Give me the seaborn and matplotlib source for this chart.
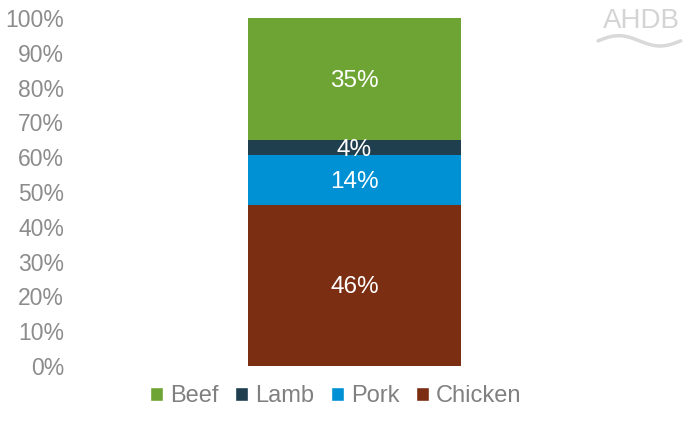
import numpy as np
import pandas as pd
import matplotlib
matplotlib.use("Agg")
import matplotlib.pyplot as plt
import seaborn as sns
from matplotlib.patches import Patch
from matplotlib.lines import Line2D

sns.set_theme(style="white")
plt.rcParams['font.family'] = ['Liberation Sans', 'DejaVu Sans']

# shares of meat (stack order bottom -> top)
meats = ['Chicken', 'Pork', 'Lamb', 'Beef']
shares = [46.4, 14.1, 4.4, 35.1]
colors = ['#7B2E12', '#0091D5', '#1F3E4E', '#6EA433']
legend_order = ['Beef', 'Lamb', 'Pork', 'Chicken']
yticks = list(range(0, 101, 10))

df = pd.DataFrame({'meat': meats, 'share': shares, 'color': colors})
df['top'] = df['share'].cumsum()
df['mid'] = df['top'] - df['share'] / 2

fig = plt.figure(figsize=(6.89, 4.30), dpi=100)
ax = fig.add_axes([0.109, 0.149, 0.811, 0.809])

# draw cumulative bars from the tallest down so they stack visually
for _, row in df[::-1].iterrows():
    sns.barplot(x=[''], y=[row['top']], color=row['color'], width=0.38,
                saturation=1, ax=ax, edgecolor='none')

for _, row in df.iterrows():
    ax.text(0, row['mid'] - 0.6, f"{row['share']:.0f}%", ha='center', va='center',
            color='white', fontsize=17.5)

ax.set_ylim(0, 100)
ax.set_xlim(-0.5, 0.5)
ax.set_yticks(yticks)
ax.set_yticklabels([f"{t}%" for t in yticks], color='#8C8C8C', fontsize=16.5)
ax.tick_params(axis='y', length=0, pad=8)
ax.set_xticks([])
ax.set_xlabel('')
ax.set_ylabel('')
for s in ax.spines.values():
    s.set_visible(False)

col = dict(zip(meats, colors))
handles = [Patch(facecolor=col[m], label=m) for m in legend_order]
fig.legend(handles=handles, loc='center', bbox_to_anchor=(0.487, 0.079), ncol=4,
           frameon=False, fontsize=17, labelcolor='#808080', handlelength=0.55,
           handleheight=0.55, handletextpad=0.3, columnspacing=0.7)

# logo
fig.text(0.987, 0.952, 'AHDB', ha='right', va='center', fontsize=20,
         color='#D4D4D4')
t = np.linspace(0, 1, 50)
fig.add_artist(Line2D(0.868 + 0.12 * t, 0.905 + 0.012 * np.sin(np.pi * 2 * t),
                      color='#D9D9D9', lw=2.5, transform=fig.transFigure))

fig.savefig('out.png', dpi=100)
